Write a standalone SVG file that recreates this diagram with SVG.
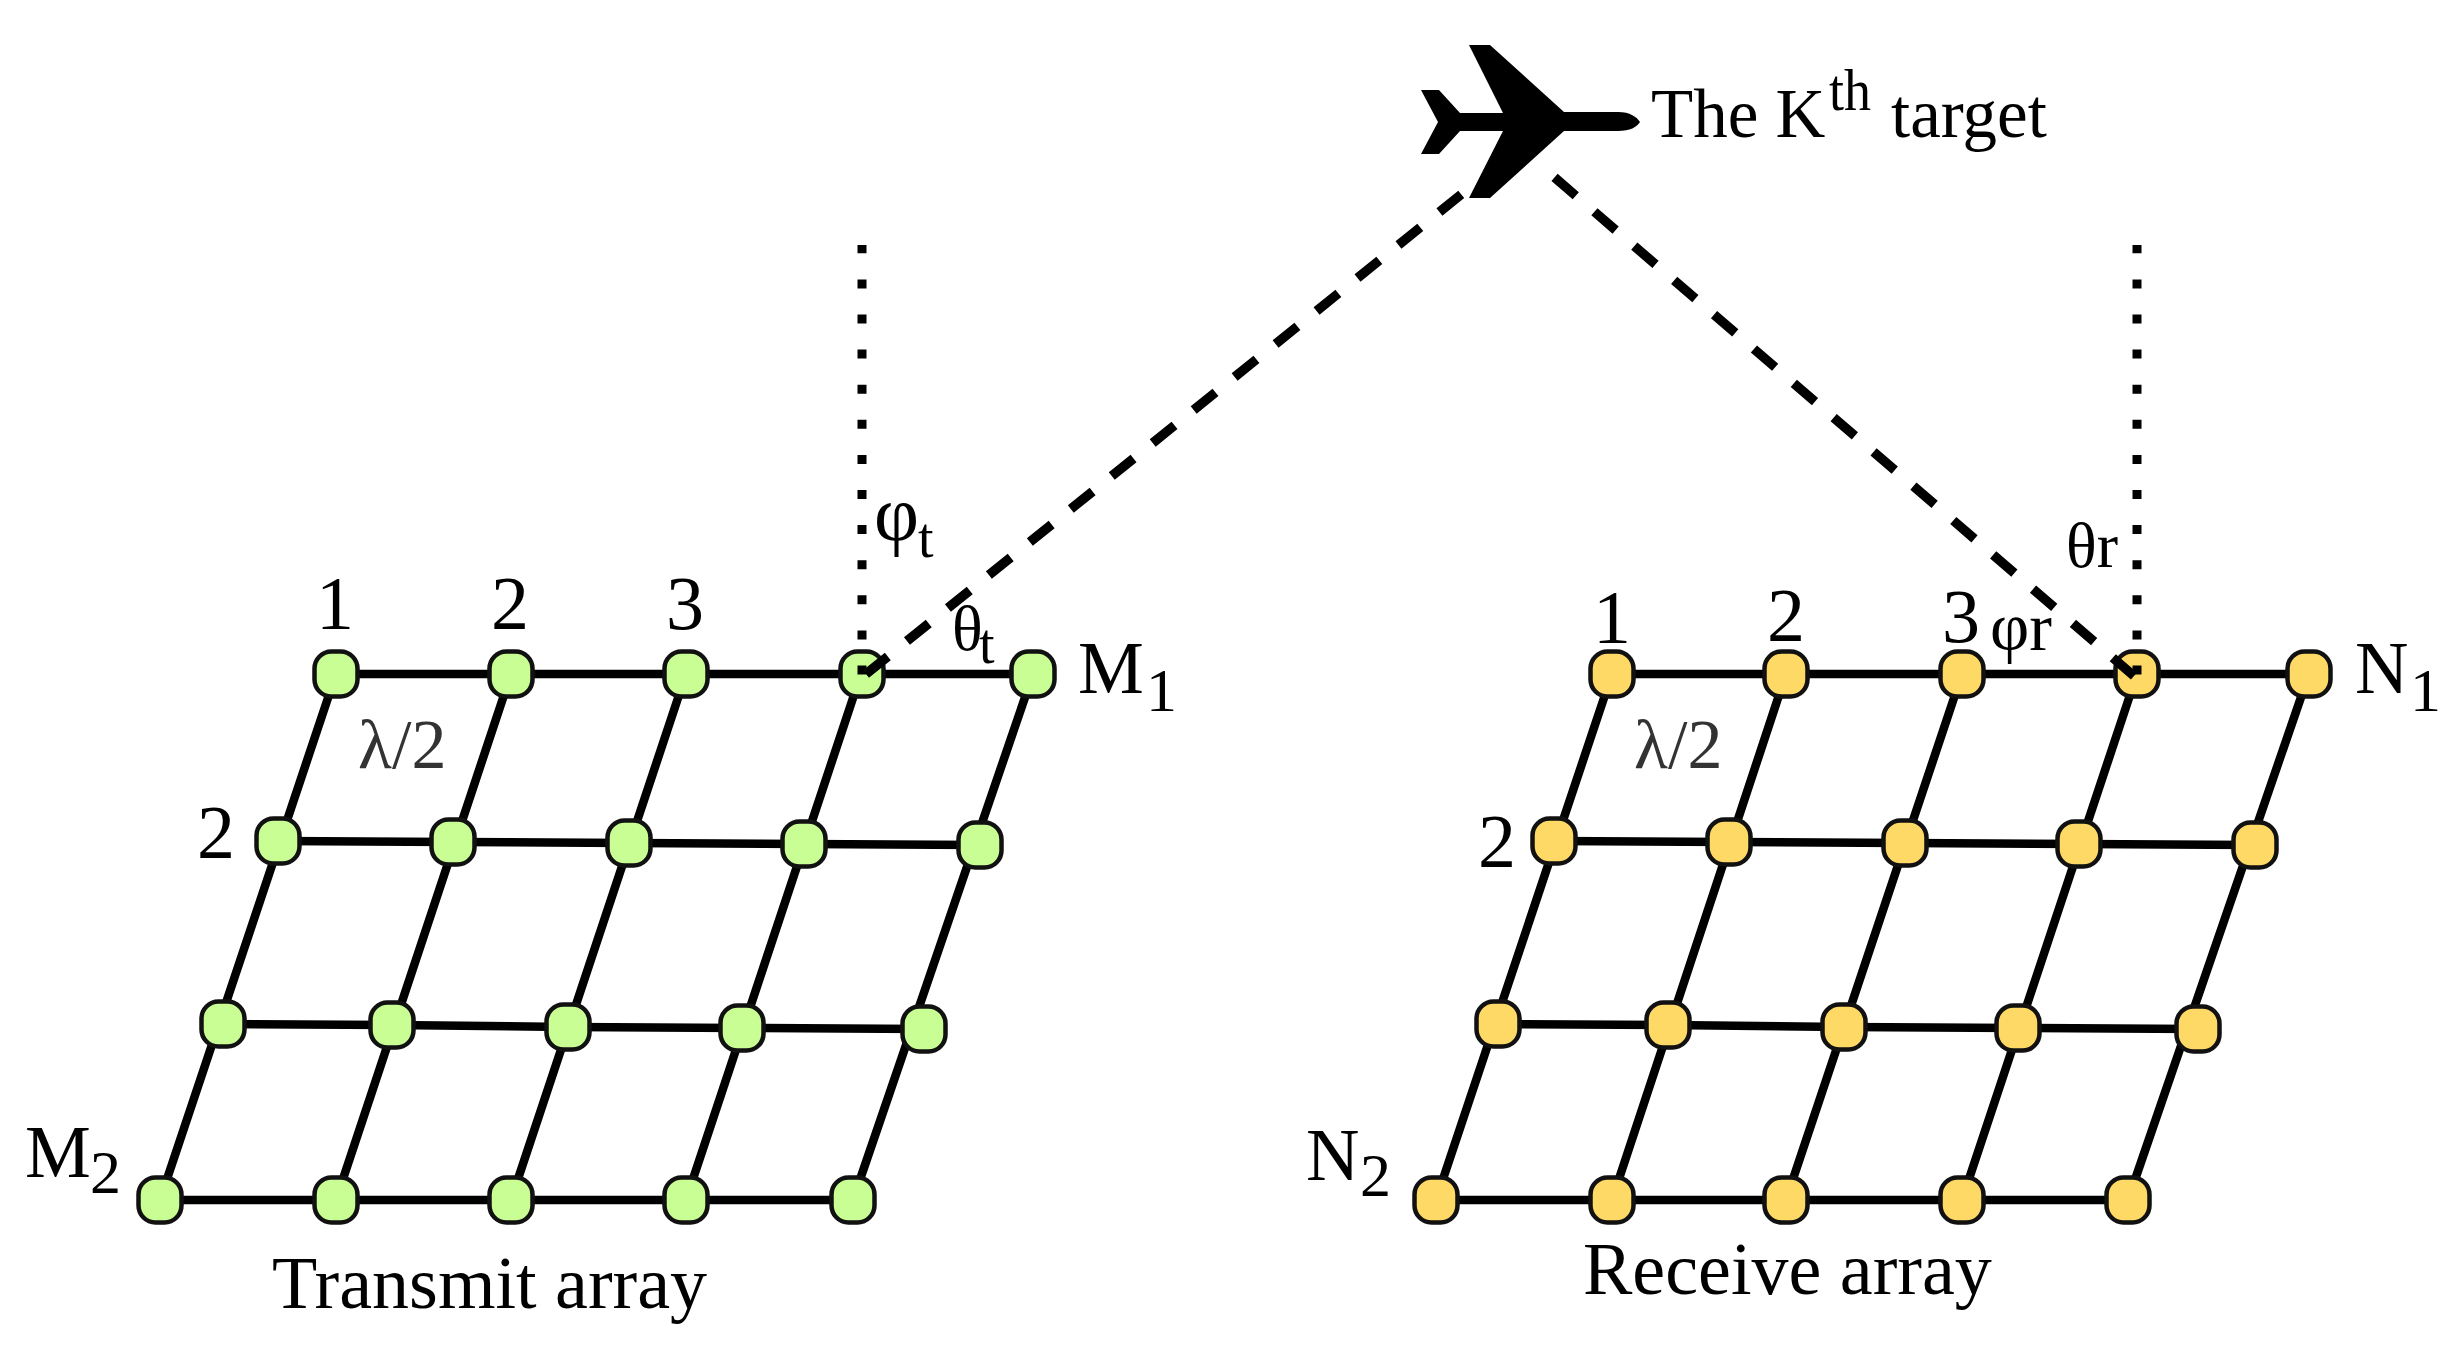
<svg xmlns="http://www.w3.org/2000/svg" width="2459" height="1357" viewBox="0 0 2459 1357">
<style>
text{font-family:"Liberation Serif","Times New Roman",serif;fill:#000}
.l{font-size:74px}.n{font-size:76px;text-anchor:middle}.s{font-size:62px}.sm{font-size:56px}.g{font-size:70px;fill:#333}
.a{font-size:78px}.b{font-size:64px}
.w{stroke:#000;stroke-width:8.5;fill:none;stroke-linecap:butt}
.dash{stroke:#000;stroke-width:9.5;fill:none;stroke-dasharray:28 24.6}
.dot{stroke:#000;stroke-width:9;fill:none;stroke-dasharray:9 26.1}
.t rect,.r rect{width:43px;height:45px;rx:17px;stroke:#111;stroke-width:4.5}
.t rect{fill:#c9fe94}
.r rect{fill:#ffd966}
</style>
<rect width="2459" height="1357" fill="#fff"/>
<g id="connectors">
<g id="transmit-grid">
<path class="w" d="M336 674H1033M278 841L453 842L629 843L804 844L980 845M223 1024L392 1025L568 1027L742 1028L924 1029M160 1200H853"/>
<path class="w" d="M336 674L160 1200M511 674L336 1200M686 674L511 1200M861 674L686 1200M1033 674L853 1200"/>
</g>
<g id="receive-grid">
<path class="w" d="M1612 674H2309M1554 841L1729 842L1905 843L2079 844L2255 845M1498 1024L1668 1025L1844 1027L2018 1028L2198 1029M1436 1200H2128"/>
<path class="w" d="M1612 674L1436 1200M1786 674L1612 1200M1962 674L1786 1200M2137 674L1962 1200M2309 674L2128 1200"/>
</g>
</g>
<g id="transmit-nodes" class="t">
<g id="t11"><rect x="314.500" y="651.500"/></g>
<g id="t12"><rect x="489.500" y="651.500"/></g>
<g id="t13"><rect x="664.500" y="651.500"/></g>
<g id="t14"><rect x="840.500" y="651.500"/></g>
<g id="t15"><rect x="1011.500" y="651.500"/></g>
<g id="t21"><rect x="256.500" y="818.500"/></g>
<g id="t22"><rect x="431.500" y="819.500"/></g>
<g id="t23"><rect x="607.500" y="820.500"/></g>
<g id="t24"><rect x="782.500" y="821.500"/></g>
<g id="t25"><rect x="958.500" y="822.500"/></g>
<g id="t31"><rect x="201.500" y="1001.500"/></g>
<g id="t32"><rect x="370.500" y="1002.500"/></g>
<g id="t33"><rect x="546.500" y="1004.500"/></g>
<g id="t34"><rect x="720.500" y="1005.500"/></g>
<g id="t35"><rect x="902.500" y="1006.500"/></g>
<g id="t41"><rect x="138.500" y="1177.500"/></g>
<g id="t42"><rect x="314.500" y="1177.500"/></g>
<g id="t43"><rect x="489.500" y="1177.500"/></g>
<g id="t44"><rect x="664.500" y="1177.500"/></g>
<g id="t45"><rect x="831.500" y="1177.500"/></g>
</g>
<g id="receive-nodes" class="r">
<g id="r11"><rect x="1590.500" y="651.500"/></g>
<g id="r12"><rect x="1764.500" y="651.500"/></g>
<g id="r13"><rect x="1940.500" y="651.500"/></g>
<g id="r14"><rect x="2115.500" y="651.500"/></g>
<g id="r15"><rect x="2287.500" y="651.500"/></g>
<g id="r21"><rect x="1532.500" y="818.500"/></g>
<g id="r22"><rect x="1707.500" y="819.500"/></g>
<g id="r23"><rect x="1883.500" y="820.500"/></g>
<g id="r24"><rect x="2057.500" y="821.500"/></g>
<g id="r25"><rect x="2233.500" y="822.500"/></g>
<g id="r31"><rect x="1476.500" y="1001.500"/></g>
<g id="r32"><rect x="1646.500" y="1002.500"/></g>
<g id="r33"><rect x="1822.500" y="1004.500"/></g>
<g id="r34"><rect x="1996.500" y="1005.500"/></g>
<g id="r35"><rect x="2176.500" y="1006.500"/></g>
<g id="r41"><rect x="1414.500" y="1177.500"/></g>
<g id="r42"><rect x="1590.500" y="1177.500"/></g>
<g id="r43"><rect x="1764.500" y="1177.500"/></g>
<g id="r44"><rect x="1940.500" y="1177.500"/></g>
<g id="r45"><rect x="2106.500" y="1177.500"/></g>
</g>
<g id="sight-lines">
<path class="dot" d="M862 674.500V245"/>
<path class="dot" d="M2137 674.500V245"/>
<path class="dash" d="M866 674L1463 193"/>
<path class="dash" d="M2134 676L1554 177"/>
</g>
<g id="target">
<path fill="#000" d="M1469 45H1490L1564 112H1618C1630 112 1637 117 1640 122C1637 127 1630 131 1618 131H1564L1490 198H1469L1503 131H1460L1439 154H1421L1438 122L1421 90H1439L1460 113H1503Z"/>
<text x="1651" y="137" font-size="69">The K</text>
<text x="1829" y="110" font-size="60" textLength="42" lengthAdjust="spacingAndGlyphs">th</text>
<text x="1891" y="137" font-size="69">target</text>
</g>
<g id="labels">
<text class="n" x="335" y="629">1</text><text class="n" x="510" y="629">2</text><text class="n" x="685" y="629">3</text>
<text class="n" x="1612" y="643">1</text><text class="n" x="1786" y="641">2</text><text class="n" x="1961" y="642">3</text>
<text class="n" x="216" y="858">2</text><text class="n" x="1497" y="867">2</text>
<text class="g" x="358" y="768">λ/2</text><text class="g" x="1634" y="768">λ/2</text>
<text class="l" x="1078" y="693">M</text><text class="s" x="1146" y="711">1</text>
<text class="l" x="25" y="1177">M</text><text class="s" x="90" y="1193">2</text>
<text class="l" x="2355" y="693">N</text><text class="s" x="2410" y="711">1</text>
<text class="l" x="1306" y="1180">N</text><text class="s" x="1360" y="1196">2</text>
<text class="a" x="874" y="540">φ</text><text class="sm" x="918" y="557">t</text>
<text class="b" x="952" y="650">θ</text><text class="sm" x="979" y="663">t</text>
<text class="b" x="2066" y="567">θr</text>
<text class="a" x="1990" y="650" font-size="68" style="font-size:68px">φr</text>
<text x="272" y="1308" font-size="74">Transmit array</text>
<text x="1583" y="1294" font-size="74">Receive array</text>
</g>
</svg>
